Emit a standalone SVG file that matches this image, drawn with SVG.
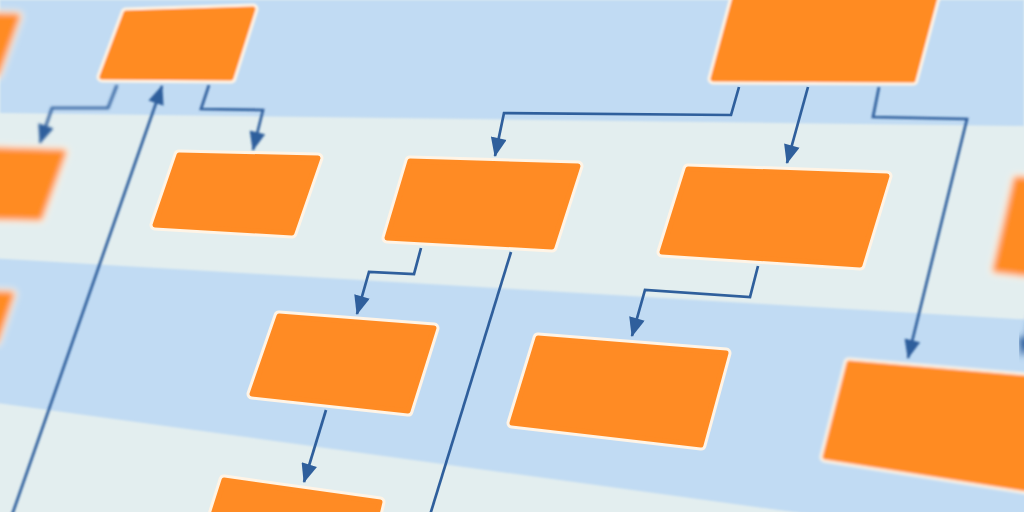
<svg xmlns="http://www.w3.org/2000/svg" width="1024" height="512" viewBox="0 0 1024 512">
<defs>
<style>
.w{fill:#fff4e6;stroke:#fff4e6;stroke-width:11;stroke-linejoin:round}
.o{fill:#ff8b24;stroke:#ff8b24;stroke-width:5;stroke-linejoin:round}
.c{fill:none;stroke:#2f5f9c;stroke-width:2.7;stroke-linejoin:miter;marker-end:url(#ah)}
.cn{fill:none;stroke:#2f5f9c;stroke-width:2.7}
</style>
<marker id="ah" markerUnits="userSpaceOnUse" markerWidth="20" markerHeight="16" refX="17" refY="7.5" orient="auto" viewBox="0 0 18 15">
<path d="M0,0 L18,7.5 L0,15 Z" fill="#2f5f9c"/>
</marker>
<filter id="b3" x="-20%" y="-20%" width="140%" height="140%"><feGaussianBlur stdDeviation="3"/></filter>
<filter id="b2" x="-20%" y="-20%" width="140%" height="140%"><feGaussianBlur stdDeviation="1.8"/></filter>
<filter id="b1" x="-20%" y="-20%" width="140%" height="140%"><feGaussianBlur stdDeviation="0.9"/></filter>
</defs>
<g id="background">
<rect x="0" y="0" width="1024" height="512" fill="#e3eeef"/>
<polygon points="0,0 1024,0 1024,126 0,113" fill="#c1dbf3" filter="url(#b1)"/>
<polygon points="-10,258 1034,320 1034,545 -10,402" fill="#c1dbf3" filter="url(#b1)"/>
</g>
<g id="connectors">
<polyline class="c" points="117,85 108,108 52,108 40,143" filter="url(#b2)"/>
<polyline class="c" points="209,85 201,109 263,110 253,150" filter="url(#b1)"/>
<polyline class="c" points="12,515 162,86" filter="url(#b1)"/>
<polyline class="c" points="739,87 731,115 504,113 495,156"/>
<polyline class="c" points="808,87 787,163"/>
<polyline class="c" points="879,87 873,117 967,119 908,358" filter="url(#b1)"/>
<polyline class="c" points="421,248 414,274 369,272 357,314"/>
<polyline class="cn" points="511,252 430,515"/>
<polyline class="c" points="758,266 750,297 645,290 632,336"/>
<polyline class="c" points="326,410 304,482"/>
<polyline class="c" points="1036,300 1022,356" filter="url(#b3)"/>
</g>
<g id="node-a" filter="url(#b3)"><polygon class="w" points="-55,14 18,16 -3,74 -75,74"/><polygon class="o" points="-55,14 18,16 -3,74 -75,74"/></g>
<g id="node-b" filter="url(#b1)"><polygon class="w" points="126,13 253,9 231,78 102,77"/><polygon class="o" points="126,13 253,9 231,78 102,77"/></g>
<g id="node-c" filter="url(#b1)"><polygon class="w" points="736,-6 936,-6 913,80 713,79"/><polygon class="o" points="736,-6 936,-6 913,80 713,79"/></g>
<g id="node-d" filter="url(#b3)"><polygon class="w" points="-36,149 64,152 40,218 -56,216"/><polygon class="o" points="-36,149 64,152 40,218 -56,216"/></g>
<g id="node-e"><polygon class="w" points="179,155 318,158 292,233 155,225"/><polygon class="o" points="179,155 318,158 292,233 155,225"/></g>
<g id="node-f"><polygon class="w" points="410,161 578,166 552,247 387,238"/><polygon class="o" points="410,161 578,166 552,247 387,238"/></g>
<g id="node-g"><polygon class="w" points="688,169 887,176 860,265 662,252"/><polygon class="o" points="688,169 887,176 860,265 662,252"/></g>
<g id="node-h" filter="url(#b3)"><polygon class="w" points="1016,179 1070,181 1045,276 995,270"/><polygon class="o" points="1016,179 1070,181 1045,276 995,270"/></g>
<g id="node-i" filter="url(#b3)"><polygon class="w" points="-36,292 12,294 -4,341 -56,339"/><polygon class="o" points="-36,292 12,294 -4,341 -56,339"/></g>
<g id="node-j"><polygon class="w" points="279,316 434,328 408,411 252,394"/><polygon class="o" points="279,316 434,328 408,411 252,394"/></g>
<g id="node-k"><polygon class="w" points="224,480 380,502 366,560 205,540"/><polygon class="o" points="224,480 380,502 366,560 205,540"/></g>
<g id="node-l"><polygon class="w" points="538,338 726,353 701,445 512,423"/><polygon class="o" points="538,338 726,353 701,445 512,423"/></g>
<g id="node-m" filter="url(#b2)"><polygon class="w" points="849,363 1070,382 1040,491 825,457"/><polygon class="o" points="849,363 1070,382 1040,491 825,457"/></g>
</svg>
